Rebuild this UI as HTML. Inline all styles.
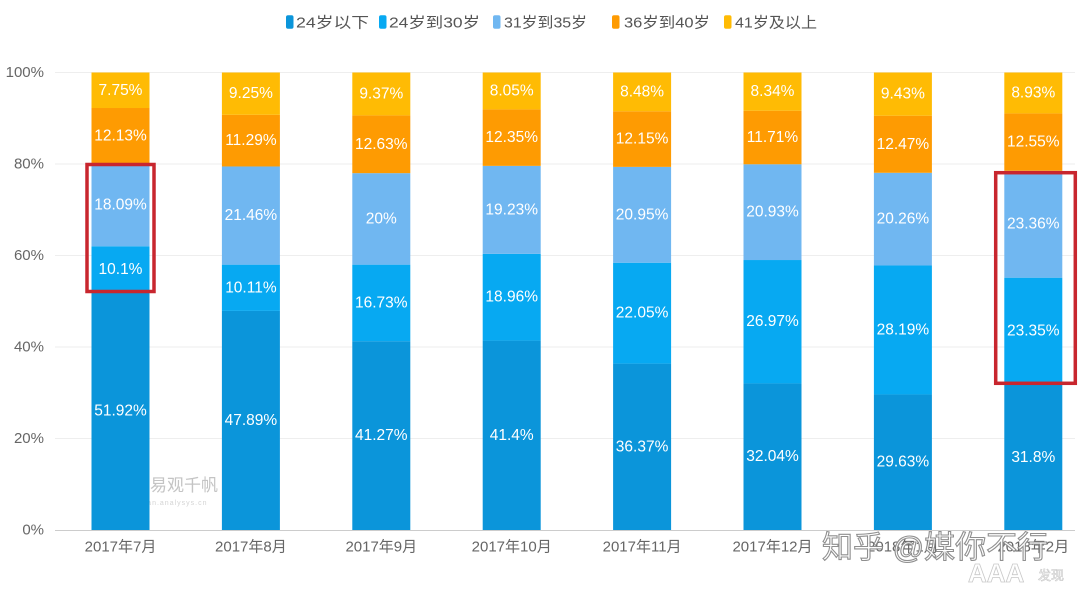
<!DOCTYPE html>
<html>
<head>
<meta charset="utf-8">
<style>
  html, body { margin: 0; padding: 0; background: #fff; }
  body { width: 1080px; height: 591px; overflow: hidden; }
  svg { display: block; }
  .lg { font-family: "Liberation Sans", "Noto Sans CJK SC", sans-serif; font-size: 15px; fill: #555; }
  .yt { font-family: "Liberation Sans", sans-serif; font-size: 15px; fill: #666; }
  .xt { font-family: "Liberation Sans", "Noto Sans CJK SC", sans-serif; font-size: 15px; fill: #666; }
  .dl { font-family: "Liberation Sans", sans-serif; font-size: 15.5px; fill: #fff; }
</style>
</head>
<body>
<svg width="1080" height="591" viewBox="0 0 1080 591" xmlns="http://www.w3.org/2000/svg">
  <!-- Legend -->
  <rect x="286" y="15.3" width="7.5" height="13.4" rx="2" fill="#0b95da"/>
  <text class="lg" x="296" y="27.5" textLength="73" lengthAdjust="spacingAndGlyphs">24岁以下</text>
  <rect x="379" y="15.3" width="7.5" height="13.4" rx="2" fill="#07a9f2"/>
  <text class="lg" x="389" y="27.5" textLength="91" lengthAdjust="spacingAndGlyphs">24岁到30岁</text>
  <rect x="493" y="15.3" width="7.5" height="13.4" rx="2" fill="#70b7f1"/>
  <text class="lg" x="504" y="27.5" textLength="83" lengthAdjust="spacingAndGlyphs">31岁到35岁</text>
  <rect x="612" y="15.3" width="7.5" height="13.4" rx="2" fill="#fe9b02"/>
  <text class="lg" x="624" y="27.5" textLength="86" lengthAdjust="spacingAndGlyphs">36岁到40岁</text>
  <rect x="724" y="15.3" width="7.5" height="13.4" rx="2" fill="#ffbb04"/>
  <text class="lg" x="735" y="27.5" textLength="82" lengthAdjust="spacingAndGlyphs">41岁及以上</text>

  <!-- Grid -->
  <g stroke="#eeeeee" stroke-width="1">
    <line x1="55" y1="72.5" x2="1075" y2="72.5"/>
    <line x1="55" y1="164" x2="1075" y2="164"/>
    <line x1="55" y1="255.5" x2="1075" y2="255.5"/>
    <line x1="55" y1="347" x2="1075" y2="347"/>
    <line x1="55" y1="438.5" x2="1075" y2="438.5"/>
  </g>
  <line x1="55" y1="530.5" x2="1075" y2="530.5" stroke="#cccccc" stroke-width="1"/>

  <!-- Y labels -->
  <g class="yt" text-anchor="end" dominant-baseline="central">
    <text x="44" y="72.5">100%</text>
    <text x="44" y="164">80%</text>
    <text x="44" y="255.5">60%</text>
    <text x="44" y="347">40%</text>
    <text x="44" y="438.5">20%</text>
    <text x="44" y="530">0%</text>
  </g>

  <!-- Watermark 易观千帆 -->
  <text x="150" y="491" font-family="'Liberation Sans','Noto Sans CJK SC',sans-serif" font-size="17" fill="#c4c4c4">易观千帆</text>
  <text x="127" y="505" font-family="'Liberation Sans',sans-serif" font-size="7" fill="#d4d4d4" letter-spacing="1">qianfan.analysys.cn</text>

  <!-- Bars -->
  <rect x="91.5" y="292.47" width="58" height="237.53" fill="#0b95da"/>
  <rect x="91.5" y="246.26" width="58" height="46.21" fill="#07a9f2"/>
  <rect x="91.5" y="163.5" width="58" height="82.76" fill="#70b7f1"/>
  <rect x="91.5" y="108.01" width="58" height="55.49" fill="#fe9b02"/>
  <rect x="91.5" y="72.5" width="58" height="35.51" fill="#ffbb04"/>

  <rect x="221.9" y="310.9" width="58" height="219.1" fill="#0b95da"/>
  <rect x="221.9" y="264.65" width="58" height="46.25" fill="#07a9f2"/>
  <rect x="221.9" y="166.47" width="58" height="98.18" fill="#70b7f1"/>
  <rect x="221.9" y="114.82" width="58" height="51.65" fill="#fe9b02"/>
  <rect x="221.9" y="72.5" width="58" height="42.32" fill="#ffbb04"/>

  <rect x="352.3" y="341.19" width="58" height="188.81" fill="#0b95da"/>
  <rect x="352.3" y="264.65" width="58" height="76.54" fill="#07a9f2"/>
  <rect x="352.3" y="173.15" width="58" height="91.5" fill="#70b7f1"/>
  <rect x="352.3" y="115.37" width="58" height="57.78" fill="#fe9b02"/>
  <rect x="352.3" y="72.5" width="58" height="42.87" fill="#ffbb04"/>

  <rect x="482.7" y="340.59" width="58" height="189.41" fill="#0b95da"/>
  <rect x="482.7" y="253.85" width="58" height="86.74" fill="#07a9f2"/>
  <rect x="482.7" y="165.87" width="58" height="87.98" fill="#70b7f1"/>
  <rect x="482.7" y="109.37" width="58" height="56.5" fill="#fe9b02"/>
  <rect x="482.7" y="72.5" width="58" height="36.87" fill="#ffbb04"/>

  <rect x="613.1" y="363.61" width="58" height="166.39" fill="#0b95da"/>
  <rect x="613.1" y="262.73" width="58" height="100.88" fill="#07a9f2"/>
  <rect x="613.1" y="166.88" width="58" height="95.85" fill="#70b7f1"/>
  <rect x="613.1" y="111.29" width="58" height="55.59" fill="#fe9b02"/>
  <rect x="613.1" y="72.5" width="58" height="38.79" fill="#ffbb04"/>

  <rect x="743.5" y="383.42" width="58" height="146.58" fill="#0b95da"/>
  <rect x="743.5" y="260.03" width="58" height="123.39" fill="#07a9f2"/>
  <rect x="743.5" y="164.28" width="58" height="95.75" fill="#70b7f1"/>
  <rect x="743.5" y="110.71" width="58" height="53.57" fill="#fe9b02"/>
  <rect x="743.5" y="72.5" width="58" height="38.21" fill="#ffbb04"/>

  <rect x="873.9" y="394.44" width="58" height="135.56" fill="#0b95da"/>
  <rect x="873.9" y="265.47" width="58" height="128.97" fill="#07a9f2"/>
  <rect x="873.9" y="172.78" width="58" height="92.69" fill="#70b7f1"/>
  <rect x="873.9" y="115.73" width="58" height="57.05" fill="#fe9b02"/>
  <rect x="873.9" y="72.5" width="58" height="43.23" fill="#ffbb04"/>

  <rect x="1004.3" y="384.51" width="58" height="145.49" fill="#0b95da"/>
  <rect x="1004.3" y="277.68" width="58" height="106.83" fill="#07a9f2"/>
  <rect x="1004.3" y="170.81" width="58" height="106.87" fill="#70b7f1"/>
  <rect x="1004.3" y="113.39" width="58" height="57.42" fill="#fe9b02"/>
  <rect x="1004.3" y="72.5" width="58" height="40.89" fill="#ffbb04"/>

  <!-- Data labels -->
  <g class="dl" text-anchor="middle" dominant-baseline="central">
    <text x="120.5" y="411.2">51.92%</text>
    <text x="120.5" y="269.4">10.1%</text>
    <text x="120.5" y="204.9">18.09%</text>
    <text x="120.5" y="135.8">12.13%</text>
    <text x="120.5" y="90.3">7.75%</text>

    <text x="250.9" y="420.5">47.89%</text>
    <text x="250.9" y="287.8">10.11%</text>
    <text x="250.9" y="215.6">21.46%</text>
    <text x="250.9" y="140.6">11.29%</text>
    <text x="250.9" y="93.7">9.25%</text>

    <text x="381.3" y="435.6">41.27%</text>
    <text x="381.3" y="302.9">16.73%</text>
    <text x="381.3" y="218.9">20%</text>
    <text x="381.3" y="144.3">12.63%</text>
    <text x="381.3" y="93.9">9.37%</text>

    <text x="511.7" y="435.3">41.4%</text>
    <text x="511.7" y="297.2">18.96%</text>
    <text x="511.7" y="209.9">19.23%</text>
    <text x="511.7" y="137.6">12.35%</text>
    <text x="511.7" y="91">8.05%</text>

    <text x="642.1" y="446.8">36.37%</text>
    <text x="642.1" y="313.2">22.05%</text>
    <text x="642.1" y="214.8">20.95%</text>
    <text x="642.1" y="139.1">12.15%</text>
    <text x="642.1" y="91.9">8.48%</text>

    <text x="772.5" y="456.7">32.04%</text>
    <text x="772.5" y="321.7">26.97%</text>
    <text x="772.5" y="212.2">20.93%</text>
    <text x="772.5" y="137.5">11.71%</text>
    <text x="772.5" y="91.6">8.34%</text>

    <text x="902.9" y="462.2">29.63%</text>
    <text x="902.9" y="330">28.19%</text>
    <text x="902.9" y="219.1">20.26%</text>
    <text x="902.9" y="144.3">12.47%</text>
    <text x="902.9" y="94.2">9.43%</text>

    <text x="1033.3" y="457.3">31.8%</text>
    <text x="1033.3" y="331.1">23.35%</text>
    <text x="1033.3" y="224.2">23.36%</text>
    <text x="1033.3" y="142.1">12.55%</text>
    <text x="1033.3" y="93">8.93%</text>
  </g>

  <!-- X labels -->
  <g class="xt" text-anchor="middle" dominant-baseline="central">
    <text x="120.5" y="547">2017年7月</text>
    <text x="250.9" y="547">2017年8月</text>
    <text x="381.3" y="547">2017年9月</text>
    <text x="511.7" y="547">2017年10月</text>
    <text x="642.1" y="547">2017年11月</text>
    <text x="772.5" y="547">2017年12月</text>
    <text x="902.9" y="547">2018年1月</text>
    <text x="1033.3" y="547">2018年2月</text>
  </g>

  <!-- Red highlight boxes -->
  <rect x="87" y="164.5" width="67" height="127" fill="none" stroke="#c8262e" stroke-width="3.5"/>
  <rect x="995.7" y="172.7" width="79.6" height="210.6" fill="none" stroke="#c8262e" stroke-width="3.5"/>

  <!-- Zhihu watermark -->
  <text x="822" y="558" font-family="'Liberation Sans','Noto Sans CJK SC',sans-serif" font-size="31" fill="#ffffff" stroke="#8a8a8a" stroke-width="1.1" opacity="0.95">知乎 @媒你不行</text>
  <text x="968" y="582" font-family="'Liberation Sans',sans-serif" font-size="26" font-weight="bold" fill="#ffffff" stroke="#bbbbbb" stroke-width="0.8" opacity="0.8">AAA</text>
  <text x="1038" y="580" font-family="'Liberation Sans','Noto Sans CJK SC',sans-serif" font-size="13" fill="#ffffff" stroke="#bbbbbb" stroke-width="0.6" opacity="0.8">发现</text>
</svg>
</body>
</html>
